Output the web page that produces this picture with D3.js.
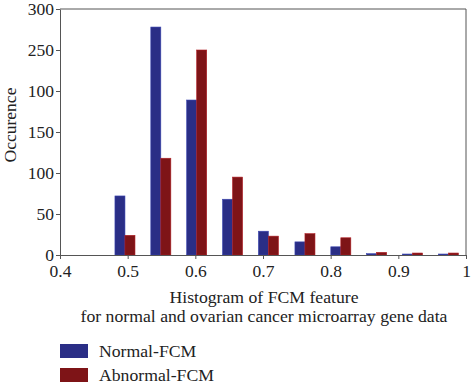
<!DOCTYPE html>
<html>
<head>
<meta charset="utf-8">
<style>
  body { margin: 0; background: #fff; }
  text { font-family: "Liberation Serif", "DejaVu Serif", serif; fill: #222; }
</style>
</head>
<body>
<svg width="474" height="386"></svg>
<script src="https://d3js.org/d3.v7.min.js"></script>
<script>

    // histogram bins (centres) and counts
    var binCenters = [0.496, 0.549, 0.602, 0.655, 0.708, 0.762, 0.815, 0.868, 0.921, 0.974];
    var normalFCM   = [72, 278, 189, 68, 29, 16, 10, 1.6, 1.2, 1.2];
    var abnormalFCM = [24, 118, 250, 95, 23, 26, 21, 3.2, 2.4, 2.4];
    var seriesNames = ["Normal-FCM", "Abnormal-FCM"];
    var xTicks = [0.4, 0.5, 0.6, 0.7, 0.8, 0.9, 1];
    var xTickLabels = ["0.4", "0.5", "0.6", "0.7", "0.8", "0.9", "1"];
    var yTicks = [0, 50, 100, 150, 200, 250, 300];
    var yTickLabels = ["0", "50", "100", "150", "100", "250", "300"];   // as printed

    var svg = d3.select("svg");

    var plotL = 60, plotR = 466, plotT = 9, plotB = 255;
    var blue = "#2a2e86", red = "#7e1417";

    var x = d3.scaleLinear().domain([0.4, 1]).range([plotL, plotR]);
    var y = d3.scaleLinear().domain([0, 300]).range([plotB, plotT]);
    var barW = 0.0148;   // width of one bar in x units

    // frame (top and right)
    svg.append("path")
        .attr("d", "M" + plotL + "," + plotT + "H" + plotR + "V" + plotB)
        .attr("fill", "none")
        .attr("stroke", "#555")
        .attr("stroke-width", 1);

    // bars
    var series = [normalFCM, abnormalFCM];
    var colors = [blue, red];
    var strokes = ["#3a45b0", "#b01c22"];
    series.forEach(function(vals, s) {
        svg.append("g").selectAll("rect")
            .data(vals)
            .enter().append("rect")
            .attr("x", function(d, i) { return x(binCenters[i] + (s - 1) * barW); })
            .attr("width", x(0.4 + barW) - x(0.4))
            .attr("y", function(d) { return y(d); })
            .attr("height", function(d) { return y(0) - y(d); })
            .attr("fill", colors[s])
            .attr("stroke", strokes[s])
            .attr("stroke-width", 0.6);
    });

    // axes
    var xAxis = svg.append("g")
        .attr("transform", "translate(0," + plotB + ")")
        .call(d3.axisBottom(x).tickValues(xTicks)
            .tickFormat(function(d, i) { return xTickLabels[i]; })
            .tickSize(4).tickSizeOuter(0).tickPadding(6));

    var yAxis = svg.append("g")
        .attr("transform", "translate(" + plotL + ",0)")
        .call(d3.axisLeft(y).tickValues(yTicks)
            .tickFormat(function(d, i) { return yTickLabels[i]; })
            .tickSize(4).tickSizeOuter(0).tickPadding(2));

    [xAxis, yAxis].forEach(function(g) {
        g.select(".domain").attr("stroke", "#555");
        g.selectAll(".tick line").attr("stroke", "#555");
        g.selectAll(".tick text")
            .attr("fill", "#222")
            .style("font-family", '"Liberation Serif", serif')
            .style("font-size", "17.5px");
    });

    // axis titles
    svg.append("text")
        .attr("transform", "translate(16,125) rotate(-90)")
        .attr("text-anchor", "middle")
        .style("font-size", "17.5px")
        .text("Occurence");

    svg.append("text")
        .attr("x", 264).attr("y", 303)
        .attr("text-anchor", "middle")
        .style("font-size", "17.7px")
        .text("Histogram of FCM feature");

    svg.append("text")
        .attr("x", 264).attr("y", 322)
        .attr("text-anchor", "middle")
        .style("font-size", "17.7px")
        .text("for normal and ovarian cancer microarray gene data");

    // legend
    var legend = svg.append("g").selectAll("g")
        .data(seriesNames)
        .enter().append("g")
        .attr("transform", function(d, i) { return "translate(60," + (344 + i * 24) + ")"; });

    legend.append("rect")
        .attr("width", 28).attr("height", 14)
        .attr("fill", function(d, i) { return colors[i]; });

    legend.append("text")
        .attr("x", 39).attr("y", 13)
        .style("font-size", "17.7px")
        .text(function(d) { return d; });

</script>
</body>
</html>
